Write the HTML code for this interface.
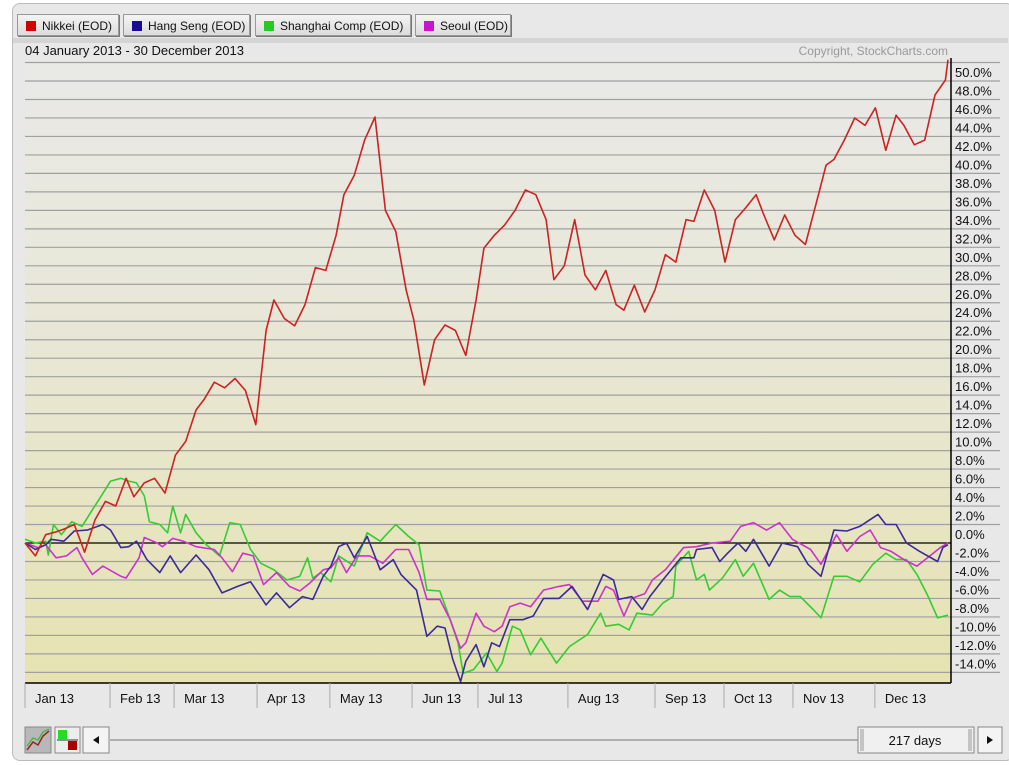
<!DOCTYPE html>
<html><head><meta charset="utf-8">
<style>
body{margin:0;width:1009px;height:765px;background:#fff;font-family:"Liberation Sans",Arial,sans-serif;overflow:hidden;position:relative}
.frame{position:absolute;left:12px;top:3px;width:1000px;height:756px;background:#e8e8e8;border:1px solid #bbb;border-radius:8px}
.btn{position:absolute;top:14px;height:22px;background:linear-gradient(#f4f4f4,#dcdcdc);border:1px solid #999;box-shadow:1px 1px 0 #777;font-size:12px;line-height:22px;color:#111;box-sizing:border-box;padding-left:24px;white-space:nowrap;overflow:hidden}
.btn i{position:absolute;left:8px;top:6px;width:10px;height:10px}
.band{position:absolute;left:13px;top:38px;width:995px;height:5px;background:#d4d4d4}
</style></head><body>
<div class="frame"></div>
<div class="band"></div>
<div class="btn" style="left:17px;width:102px"><i style="background:#d40000"></i>Nikkei (EOD)</div>
<div class="btn" style="left:123px;width:127px"><i style="background:#1a0a9a"></i>Hang Seng (EOD)</div>
<div class="btn" style="left:255px;width:156px"><i style="background:#22cc22"></i>Shanghai Comp (EOD)</div>
<div class="btn" style="left:415px;width:96px"><i style="background:#d010d0"></i>Seoul (EOD)</div>
<svg id="chart" width="1009" height="765" style="position:absolute;left:0;top:0">
<defs><linearGradient id="bg" x1="0" y1="0" x2="0" y2="1"><stop offset="0" stop-color="#e9e9e7"/><stop offset="0.45" stop-color="#e8e7d6"/><stop offset="1" stop-color="#e6e3b0"/></linearGradient></defs>
<rect x="25" y="58" width="926" height="625" fill="url(#bg)"/>
<text x="25" y="55" font-size="13" fill="#111">04 January 2013 - 30 December 2013</text>
<text x="948" y="55" font-size="12" fill="#999" text-anchor="end">Copyright, StockCharts.com</text>
<g id="grid"></g><g id="series"></g><g id="axes"></g>
<rect x="25" y="727" width="26" height="26" fill="#b8b8b8" stroke="#888"/>
<polyline points="27,750 33,742 38,745 43,736 49,731" fill="none" stroke="#a02020" stroke-width="1.5"/>
<polyline points="27,746 33,738 38,740 43,732 49,729" fill="none" stroke="#33bb33" stroke-width="1.2"/>
<rect x="55" y="727" width="25" height="26" fill="#eee" stroke="#888"/>
<rect x="58" y="730" width="9" height="9" fill="#22dd22"/><line x1="57" y1="740" x2="78" y2="740" stroke="#333"/><rect x="68" y="741" width="9" height="9" fill="#aa0000"/>
<rect x="83" y="727" width="26" height="26" fill="#f4f4f4" stroke="#888"/>
<polygon points="93,740 99,736 99,744" fill="#111"/>
<line x1="110" y1="740" x2="858" y2="740" stroke="#777"/>
<rect x="858" y="727" width="116" height="26" fill="#f0f0f0" stroke="#888"/>
<line x1="861" y1="729" x2="861" y2="751" stroke="#999"/><line x1="863" y1="729" x2="863" y2="751" stroke="#999"/>
<line x1="969" y1="729" x2="969" y2="751" stroke="#999"/><line x1="971" y1="729" x2="971" y2="751" stroke="#999"/>
<text x="915" y="745" font-size="13" text-anchor="middle" fill="#111">217 days</text>
<rect x="978" y="727" width="24" height="26" fill="#f4f4f4" stroke="#888"/>
<polygon points="993,740 987,736 987,744" fill="#111"/>
</svg>
<script>
const nikkeiDays=[4,8,12,16,19,23,27,31,35,39,43,46,50,54,58,62,66,70,73,77,81,85,89,93,97,100,104,108,112,116,120,124,127,131,135,139,143,147,151,154,158,162,166,170,174,178,181,185,189,193,197,201,205,208,212,216,220,224,228,232,235,239,243,247,251,255,259,262,266,270,274,278,282,286,289,293,297,301,305,309,313,316,320,324,328,332,336,340,343,347,351,355,359,360];
const nikkeiVals=[0,-1.4,0.9,1.2,1.5,2,-1,2.5,4.5,4,7,5,6.5,7,5.4,9.5,11,14.4,15.5,17.4,16.8,17.8,16.5,12.8,23,26.3,24.3,23.5,25.8,29.8,29.5,33.3,37.7,39.8,43.6,46.1,36,33.7,27.4,24.1,17.1,22,23.6,23,20.3,26.3,31.9,33.3,34.4,36,38.2,37.7,35,28.5,30,35,29,27.4,29.5,25.8,25.2,27.9,25,27.4,31.2,30.4,35,34.8,38.2,36,30.4,35,36.3,37.7,35.5,32.8,35.5,33.3,32.3,36.6,40.9,41.5,43.6,46,45.2,47.1,42.5,46.3,45.2,43.1,43.6,48.5,50.1,52.3];
const hangDays=[4,8,12,14,19,23,28,34,37,41,44,47,51,56,60,64,70,75,80,86,91,97,101,106,111,115,119,122,125,128,131,136,141,146,149,155,159,163,166,169,172,174,178,181,184,187,191,196,200,204,210,215,221,227,231,233,238,242,245,250,257,262,263,269,272,275,279,282,285,291,296,302,306,311,316,321,326,333,336,340,344,349,356,358,360];
const hangVals=[0,-0.7,-0.2,0.4,0.2,1.3,1.4,2.0,1.4,-0.5,-0.4,0.2,-1.8,-3.2,-1.4,-3.2,-1.3,-2.9,-5.4,-4.7,-4.2,-6.7,-5.4,-7.0,-5.8,-6.1,-3.6,-2.5,-0.4,0,-1.6,0.7,-2.9,-1.8,-3.4,-5.1,-10.1,-9.0,-9.2,-12.6,-15,-12.8,-11,-13.4,-10.8,-11.2,-8.3,-8.3,-7.9,-6,-6,-4.7,-7.2,-3.4,-4,-6.1,-5.8,-7.2,-5.8,-4,-1.6,-1.6,-0.7,-0.5,-2,-1.1,0,-0.9,0.4,-2.5,0,-0.4,-2.3,-3.6,1.4,1.3,1.8,3.1,2,2,0,-0.9,-2,-0.5,-0.2];
const shanghaiDays=[4,8,12,13,15,18,22,26,30,33,37,41,44,47,50,52,56,59,61,64,66,70,74,79,83,87,91,95,100,105,110,113,115,118,122,125,131,136,141,147,152,156,159,164,168,171,173,177,182,186,188,192,195,199,203,209,214,221,226,228,233,237,240,246,250,254,255,260,263,266,268,273,278,281,285,291,295,299,303,308,311,316,321,326,331,336,340,344,348,352,356,360];
const shanghaiVals=[0.4,0,0.2,-1.3,2,0.9,2.3,1.8,3.6,4.9,6.7,7,6.7,6.5,5.1,2.3,2,1.1,4,1.1,3.1,1.1,-0.2,-1.4,2.2,2,-0.7,-2.2,-2.9,-4,-3.6,-1.6,-3.8,-3.2,-4.2,-1.4,-2.5,1.1,0.2,2,0.7,-0.2,-5.1,-5.2,-8.3,-10.8,-14.1,-13.7,-11.9,-13.9,-13,-9,-9.4,-12.1,-10.3,-13,-11.2,-9.9,-7.6,-9,-8.8,-9.4,-7.6,-7.8,-6.5,-5.8,-2.5,-0.9,-4,-3.4,-5.1,-3.8,-1.8,-3.6,-2.2,-6.1,-5.1,-5.8,-5.8,-7.2,-8.1,-3.6,-3.6,-4.2,-2.3,-1.1,-1.8,-1.8,-3.4,-5.6,-8.1,-7.8];
const seoulDays=[4,9,12,16,20,24,26,30,34,41,43,48,50,55,57,61,65,70,77,80,84,88,92,96,101,106,110,114,119,122,125,128,132,137,142,147,152,156,159,164,168,172,174,178,181,185,188,191,195,199,204,210,214,219,225,228,231,235,238,243,246,251,258,263,269,276,280,285,290,295,300,307,311,317,321,326,330,334,338,343,348,353,357,360];
const seoulVals=[0,-0.5,-0.2,-1.6,-1.4,-0.5,-1.6,-3.4,-2.5,-3.6,-3.8,-1.6,0.6,0,-0.4,0.5,0.2,-0.4,-0.7,-1.6,-3.1,-1.1,-1.4,-4.5,-3.2,-4.7,-5.2,-4.3,-2.9,-2.7,-1.6,-3.2,-1.4,-1.4,-2.2,-0.7,-0.7,-3.2,-6.1,-6.1,-8.3,-11.4,-10.8,-7.6,-9,-9.6,-9,-6.9,-6.5,-6.9,-5.1,-4.7,-4.5,-6.3,-6.3,-4.7,-5.1,-7.9,-6,-5.5,-4,-2.9,-0.5,-0.4,0,0.2,1.8,2.2,1.4,2.2,0.4,-0.7,-2.3,0.9,-0.9,0.7,1.4,-0.5,-0.9,-1.8,-2.5,-1.4,-0.5,0];
const yTicks=[50,48,46,44,42,40,38,36,34,32,30,28,26,24,22,20,18,16,14,12,10,8,6,4,2,0,-2,-4,-6,-8,-10,-12,-14];
const monthLabels=["Jan 13","Feb 13","Mar 13","Apr 13","May 13","Jun 13","Jul 13","Aug 13","Sep 13","Oct 13","Nov 13","Dec 13"];
const monthStarts=[4,36.8,61.5,93.5,121.6,153.3,178.7,213.4,247,273.6,300.2,331.8];

const NS="http://www.w3.org/2000/svg";
const X0=25,X1=948,D0=4,D1=360;
const xs=d=>X0+(d-D0)*(X1-X0)/(D1-D0);
const ys=v=>543-v*9.24;
function mk(tag,attrs,parent){const e=document.createElementNS(NS,tag);for(const k in attrs)e.setAttribute(k,attrs[k]);parent.appendChild(e);return e;}
const grid=document.getElementById('grid'),axes=document.getElementById('axes'),ser=document.getElementById('series');
for(let v=52;v>=-14;v-=2){
  const l=mk('line',{x1:25,x2:v===0?951:1000,y1:ys(v),y2:ys(v),stroke:v===0?'#000':'#a0a0a0','stroke-width':v===0?1.3:1.2},grid);
  
  
}
yTicks.forEach(v=>{
  const t=mk('text',{x:955,y:ys(v)-4,'font-size':13,fill:'#111'},axes);
  t.textContent=v.toFixed(1)+'%';
  
  
});
mk('line',{x1:951,x2:951,y1:58,y2:683,stroke:'#000','stroke-width':1.5},axes);
mk('line',{x1:25,x2:951,y1:683,y2:683,stroke:'#000','stroke-width':1.5},axes);
monthStarts.forEach((d,i)=>{
  const x=xs(d);
  if(i>0){const s=mk('line',{x1:x,x2:x,y1:683,y2:708,stroke:'#aaa'},axes);
    
    }
  const t=mk('text',{x:x+10,y:703,'font-size':13,fill:'#111'},axes);
  t.textContent=monthLabels[i];
  
  
});
mk('line',{x1:25,x2:25,y1:683,y2:708,stroke:'#aaa'},axes);
function draw(days,vals,color,name){
  const pts=days.map((d,i)=>xs(d).toFixed(1)+','+ys(vals[i]).toFixed(1)).join(' ');
  const p=mk('polyline',{points:pts,fill:'none',stroke:color,'stroke-width':1.6,'stroke-linejoin':'round'},ser);
  
  
}
draw(shanghaiDays,shanghaiVals,'#33cc33','shanghai-line');
draw(seoulDays,seoulVals,'#cc33cc','seoul-line');
draw(hangDays,hangVals,'#3a2a9a','hang-seng-line');
draw(nikkeiDays,nikkeiVals,'#cc2222','nikkei-line');
</script>
</body></html>
